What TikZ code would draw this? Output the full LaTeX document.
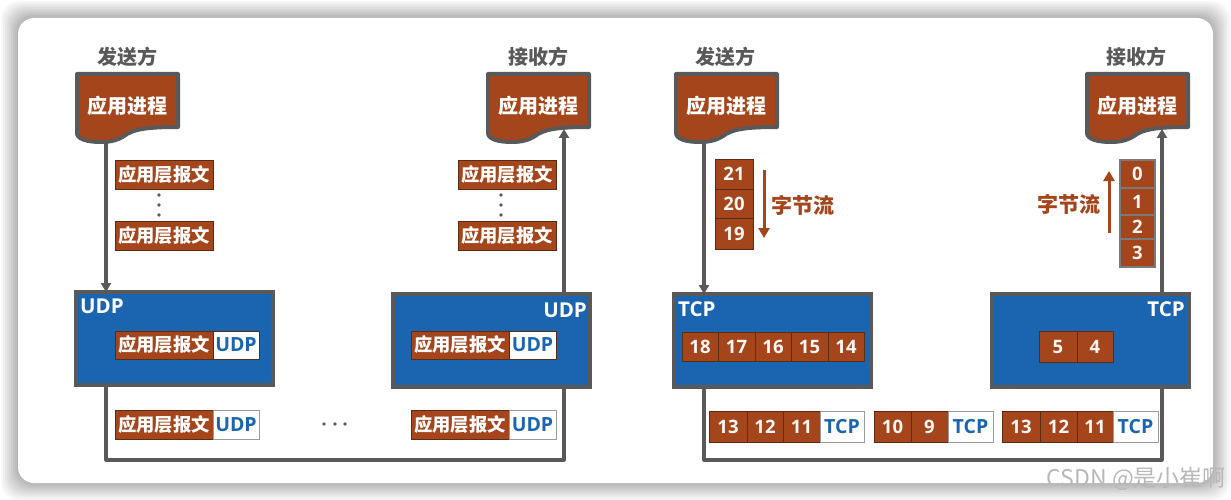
\documentclass[tikz,border=0pt]{standalone}
\usepackage{fontspec}
\setmainfont{Open Sans}
\newfontfamily\cjk{Noto Sans CJK SC}
\usetikzlibrary{arrows.meta,calc}
\definecolor{brn}{HTML}{A5451B}
\definecolor{blu}{HTML}{1A64B0}
\definecolor{gry}{HTML}{595959}
\definecolor{edg}{HTML}{5A2C12}
\tikzset{
  conn/.style={draw=gry,line width=3.2pt},
  arr/.style={conn,-{Triangle[width=10pt,length=9pt]}},
  flowarr/.style={draw=brn,line width=3pt,-{Triangle[width=11pt,length=10pt]}},
  cellbase/.style={rectangle,inner sep=0pt,outer sep=0pt,line width=0.8pt},
  msg/.style={cellbase,fill=brn,draw=edg,text=white,font=\cjk\bfseries\fontsize{18.3}{18.3}\selectfont},
  num/.style={cellbase,fill=brn,draw=edg,text=white!95!brn,font=\fontsize{18.5}{18.5}\selectfont\bfseries},
  numg/.style={num,draw=gry!80,line width=1.4pt},
  hdr/.style={cellbase,fill=white,draw=gry!60,line width=1pt,text=blu,font=\fontsize{19.5}{19.5}\selectfont\bfseries},
  hdri/.style={hdr,draw=edg,line width=0.8pt},
  stack/.style={rectangle,fill=blu,draw=gry,line width=4pt,inner sep=0pt,outer sep=0pt},
  boxlabel/.style={inner sep=0pt,text=white,font=\fontsize{20.5}{20.5}\selectfont\bfseries},
  role/.style={inner sep=0pt,text=gry,font=\cjk\bfseries\fontsize{20}{20}\selectfont},
  proc/.style={rectangle,inner sep=0pt,outer sep=0pt,minimum width=105pt,minimum height=71pt,text=white,font=\cjk\bfseries\fontsize{20}{20}\selectfont},
  flowlabel/.style={inner sep=0pt,text=brn,font=\cjk\bfseries\fontsize{21}{21}\selectfont},
  dot/.style={circle,fill=gry,inner sep=0pt,minimum size=3.6pt},
}
\newcommand{\cellat}[7]{\node[#6,minimum width={(#4-#2)*1pt},minimum height={(#5-#3)*1pt}] (#1) at ({(#2+#4)/2},{(#3+#5)/2}) {#7};}
\newcommand{\docat}[3]{%
  \begin{scope}[shift={(#2,0)}]
  \draw[fill=brn,draw=gry,line width=4pt,line join=round]
    (2,74) -- (103,74) -- (103,127)
    .. controls (80,127) and (62,128) .. (52,134)
    .. controls (44,140) and (36,142) .. (26,142)
    .. controls (12,142) and (2,139) .. (2,133) -- cycle;
  \end{scope}
  \node[proc] (#1) at ({#2+52},107.5) {\raisebox{5.5pt}{应用进程}};}
\begin{document}
\begin{tikzpicture}[x=1pt,y=-1pt]
\useasboundingbox (0,0) rectangle (1231,500);
\fill[white] (0,0) rectangle (1231,500);
% soft shadow round the card
\foreach \e/\o in {17/0.03,15/0.03,13/0.03,11/0.035,9/0.035,7/0.04,5/0.04,3/0.04,1/0.04}{
  \fill[black,opacity=\o,rounded corners=18pt] ({18-\e},{18-\e}) rectangle ({1213+\e},{483+\e});
}
\fill[white,rounded corners=16pt] (18,18) rectangle (1213,483);

% ---------- UDP, sender
\node[role] (roleA) at (127,57) {发送方};
\docat{docA}{75}{}
\cellat{udpA}{76}{292}{273}{385}{stack}{}
\node[boxlabel,anchor=west] (udpAl) at (80,306) {UDP};
\cellat{mA1}{115}{160}{213}{189}{msg}{应用层报文}
\cellat{mA2}{115}{221}{213}{250}{msg}{应用层报文}
\node[dot] (dA1) at (159,195) {};
\node[dot] (dA2) at (159,205) {};
\node[dot] (dA3) at (159,215) {};
\cellat{mA3}{115}{331}{213}{359}{msg}{应用层报文}
\cellat{hA3}{213}{331}{259}{359}{hdri}{UDP}
\cellat{mA4}{115}{410}{213}{439}{msg}{应用层报文}
\cellat{hA4}{213}{410}{259}{439}{hdr}{UDP}
\node[dot] (dL1) at (324,424) {};
\node[dot] (dL2) at (335,424) {};
\node[dot] (dL3) at (345,424) {};

% ---------- UDP, receiver
\node[role] (roleB) at (538,57) {接收方};
\docat{docB}{486}{}
\cellat{udpB}{393}{294}{590}{387}{stack}{}
\node[boxlabel,anchor=east] (udpBl) at (587,310) {UDP};
\cellat{mB1}{458}{160}{556}{189}{msg}{应用层报文}
\cellat{mB2}{458}{221}{556}{250}{msg}{应用层报文}
\node[dot] (dB1) at (501,195) {};
\node[dot] (dB2) at (501,205) {};
\node[dot] (dB3) at (501,215) {};
\cellat{mB3}{411}{331}{509}{359}{msg}{应用层报文}
\cellat{hB3}{509}{331}{556}{359}{hdri}{UDP}
\cellat{mB4}{411}{410}{509}{439}{msg}{应用层报文}
\cellat{hB4}{509}{410}{556}{439}{hdr}{UDP}

\coordinate (xa) at (106,0);
\coordinate (xb) at (564,0);
\coordinate (tipB) at (564,129);
\coordinate (lowB) at (564,460);
\draw[arr] (docA.south -| xa) -- (udpA.north -| xa);
\draw[arr] (udpB.north -| xb) -- (tipB);
\draw[conn,line join=round] (udpA.south -| xa) |- (lowB) -- (udpB.south -| xb);

% ---------- TCP, sender
\node[role] (roleC) at (725,57) {发送方};
\docat{docC}{674}{}
\cellat{tcpC}{674}{294}{871}{387}{stack}{}
\node[boxlabel,anchor=west] (tcpCl) at (678,309) {TCP};
\cellat{n21}{715}{159}{753}{189}{num}{21}
\cellat{n20}{715}{189}{753}{218}{num}{20}
\cellat{n19}{715}{218}{753}{249}{num}{19}
\coordinate (fC1) at (764,170);
\coordinate (fC2) at (764,238);
\draw[flowarr] (fC1) -- (fC2);
\node[flowlabel] (flC) at (803,205) {字节流};
\cellat{n18}{682}{332}{718}{361}{num}{18}
\cellat{n17}{718}{332}{755}{361}{num}{17}
\cellat{n16}{755}{332}{791}{361}{num}{16}
\cellat{n15}{791}{332}{828}{361}{num}{15}
\cellat{n14}{828}{332}{864}{361}{num}{14}
\cellat{p13}{709}{411}{747}{442}{num}{13}
\cellat{p12}{747}{411}{783}{442}{num}{12}
\cellat{p11}{783}{411}{820}{442}{num}{11}
\cellat{hP1}{820}{411}{864}{442}{hdr}{TCP}
\cellat{q10}{874}{411}{911}{442}{num}{10}
\cellat{q9}{911}{411}{948}{442}{num}{9}
\cellat{hQ}{948}{411}{993}{442}{hdr}{TCP}
\cellat{r13}{1002}{411}{1040}{442}{num}{13}
\cellat{r12}{1040}{411}{1077}{442}{num}{12}
\cellat{r11}{1077}{411}{1113}{442}{num}{11}
\cellat{hR}{1113}{411}{1158}{442}{hdr}{TCP}

% ---------- TCP, receiver
\node[role] (roleD) at (1136,57) {接收方};
\docat{docD}{1085}{}
\cellat{tcpD}{992}{294}{1189}{387}{stack}{}
\node[boxlabel,anchor=east] (tcpDl) at (1185,309) {TCP};
\cellat{n5}{1039}{331}{1077}{362}{num}{5}
\cellat{n4}{1077}{331}{1113}{362}{num}{4}
\cellat{n0}{1120}{160}{1155}{188}{numg}{0}
\cellat{n1}{1120}{188}{1155}{215}{numg}{1}
\cellat{n2}{1120}{215}{1155}{239}{numg}{2}
\cellat{n3}{1120}{239}{1155}{267}{numg}{3}
\coordinate (fD1) at (1109,233);
\coordinate (fD2) at (1109,171);
\draw[flowarr] (fD1) -- (fD2);
\node[flowlabel] (flD) at (1069,204) {字节流};

\coordinate (xc) at (704,0);
\coordinate (xd) at (1162,0);
\coordinate (tipD) at (1162,129);
\coordinate (lowD) at (1162,460);
\draw[arr] (docC.south -| xc) -- (tcpC.north -| xc);
\draw[arr] (tcpD.north -| xd) -- (tipD);
\draw[conn,line join=round] (tcpC.south -| xc) |- (lowD) -- (tcpD.south -| xd);

% ---------- watermark
\node[anchor=east,inner sep=0pt,text=black!28,font=\cjk\fontsize{23}{23}\selectfont] (wm) at (1226,479) {CSDN @是小崔啊};
\end{tikzpicture}
\end{document}
